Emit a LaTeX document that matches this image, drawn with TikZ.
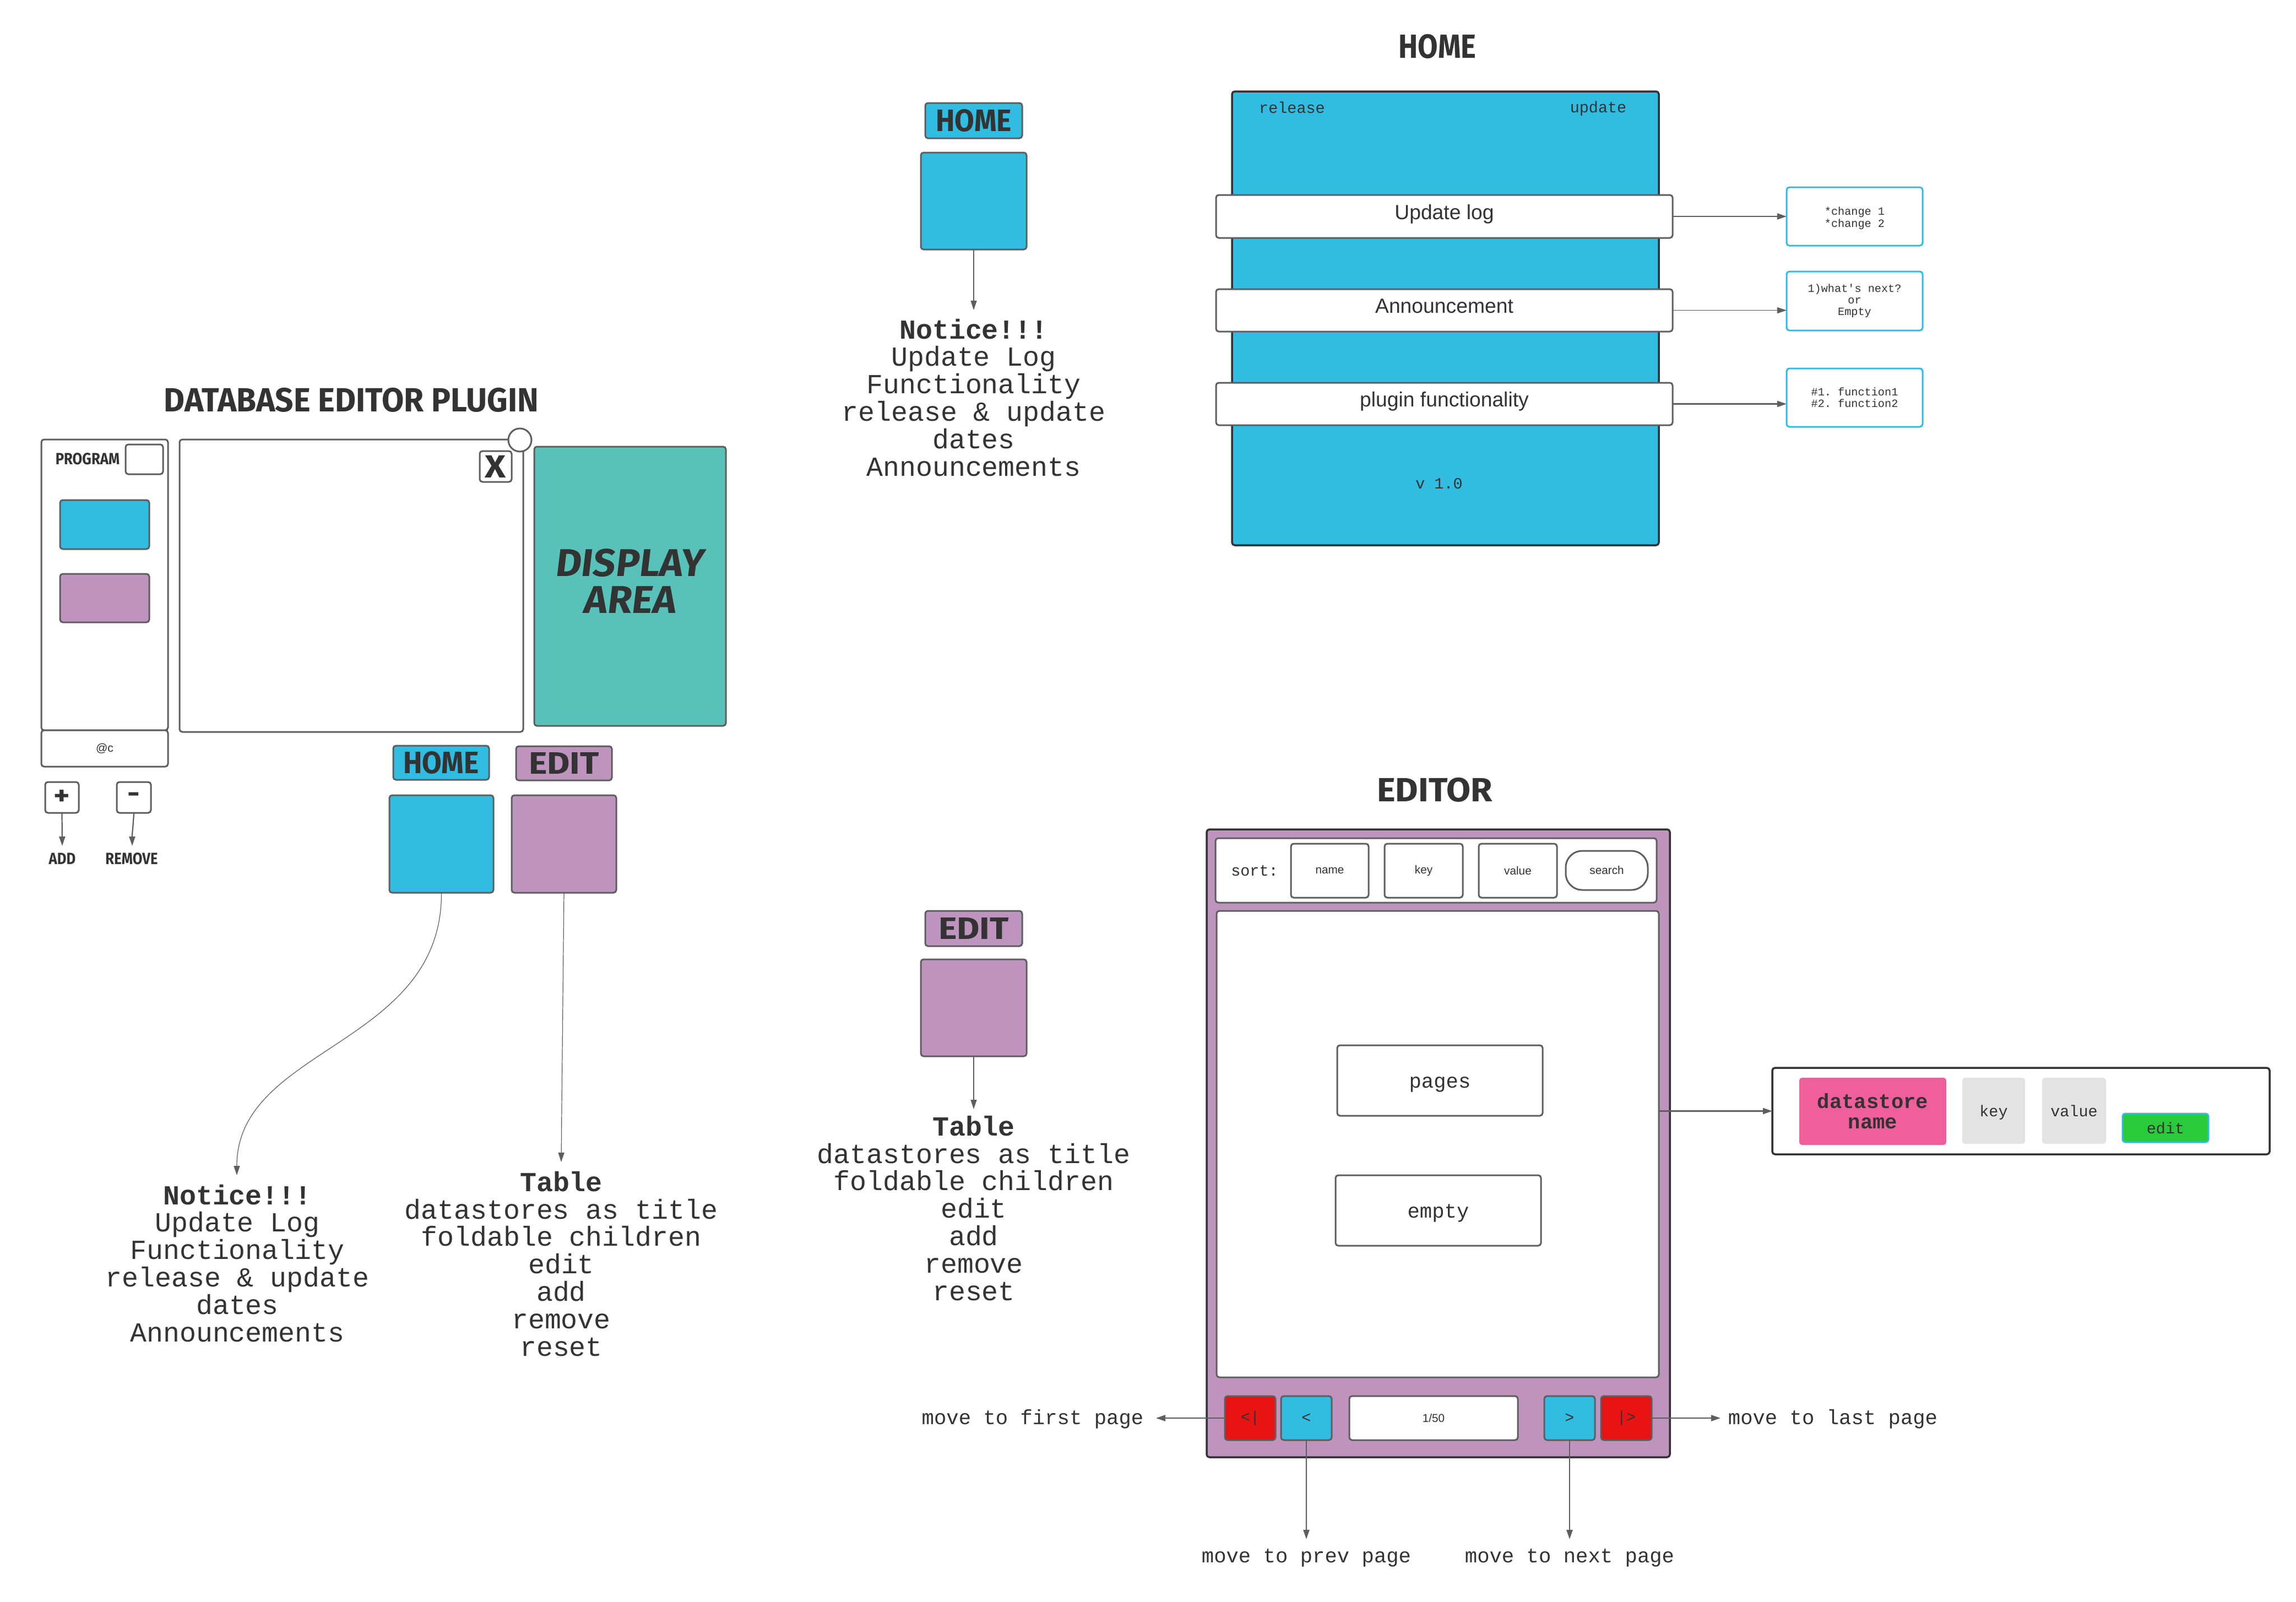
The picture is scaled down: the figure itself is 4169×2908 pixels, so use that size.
\documentclass[tikz,border=0pt]{standalone}
\usepackage{fontspec}
\setmainfont{Liberation Sans}
\setmonofont{Liberation Mono}
\newfontfamily\handa[FakeStretch=.87]{Fira Sans}
\newfontfamily\hande[FakeStretch=.92]{Fira Sans}
\newfontfamily\handb[FakeStretch=.96]{Fira Sans}
\newfontfamily\handc[FakeStretch=1.05]{Fira Sans}
\newfontfamily\handd[FakeStretch=1.13]{Fira Sans}
\newfontfamily\handsl[FakeStretch=1.02,FakeSlant=.12]{Fira Sans}
\usetikzlibrary{arrows.meta}
\definecolor{lin}{HTML}{5E5E5E}
\definecolor{ink}{HTML}{333333}
\definecolor{blu}{HTML}{31BCE2}
\definecolor{pur}{HTML}{BE94BE}
\definecolor{tea}{HTML}{58C2BA}
\definecolor{rdd}{HTML}{E81313}
\definecolor{pnk}{HTML}{F05E9C}
\definecolor{gry}{HTML}{E3E3E3}
\definecolor{grn}{HTML}{2ACB3A}
\newcommand{\sz}[1]{\fontsize{#1}{#1}\selectfont}
\newcommand{\bx}[7]{\node[#2,minimum width={(#5-#3)*0.01cm},minimum height={(#6-#4)*0.01cm}] (#1) at ({(#3+#5)/2},{(#4+#6)/2}) {#7};}
\tikzset{
  base/.style={rectangle,inner sep=0pt,outer sep=0pt,rounded corners=.05cm,align=center,text=ink},
  wbox/.style={base,draw=lin,fill=white,line width=.03cm},
  bluebox/.style={base,draw=lin,fill=blu,line width=.03cm},
  purbox/.style={base,draw=lin,fill=pur,line width=.03cm},
  redbox/.style={base,draw=lin,fill=rdd,line width=.03cm},
  darkblue/.style={base,draw=ink,fill=blu,line width=.035cm},
  darkpur/.style={base,draw=ink,fill=pur,line width=.035cm},
  darkwhite/.style={base,draw=ink,fill=white,line width=.035cm},
  sidebox/.style={base,draw=blu,fill=white,line width=.03cm,font=\ttfamily\sz{5.75}\setlength{\baselineskip}{6pt}},
  txt/.style={inner sep=0pt,outer sep=0pt,align=center,text=ink},
  monolg/.style={txt,font=\ttfamily\sz{14.2}},
  monomd/.style={txt,font=\ttfamily\sz{10.6}},
  monosm/.style={txt,font=\ttfamily\sz{8.1}},
  midbox/.style={wbox,font=\ttfamily\sz{10.6},text height=9pt,text depth=1.6pt},
  sanssm/.style={font=\sz{5.9}},
  sansmd/.style={font=\sz{10.6},text height=8pt,text depth=5pt},
  rowcell/.style={base,fill=gry,font=\ttfamily\sz{8.1},text height=7.8pt,text depth=2pt},
  titlea/.style={txt,font=\handa\bfseries\sz{17.3}},
  titleb/.style={txt,font=\handb\bfseries\sz{17.3}},
  titlec/.style={txt,font=\handc\bfseries\sz{17.3}},
  handsm/.style={txt,font=\handa\bfseries\sz{8.4}},
  hometab/.style={font=\hande\bfseries\sz{16}},
  edittab/.style={font=\handd\bfseries\sz{16}},
  conn/.style={draw=lin,line width=.022cm,-{Triangle[length=.17cm,width=.11cm]}},
  thinconn/.style={draw=lin,line width=.012cm,-{Triangle[length=.17cm,width=.11cm]}},
}
\begin{document}
\begin{tikzpicture}[x=0.01cm,y=-0.01cm]
\useasboundingbox (0,0) rectangle (4169,2908);
% ---------- left: plugin
\node[titleb] (tplugin) at (638,726) {DATABASE EDITOR PLUGIN};
\bx{panel}{wbox}{75}{798}{305}{1326}{}
\bx{panelfoot}{wbox}{75}{1326}{305}{1392}{\sz{6}@c}
\bx{progbox}{wbox}{228}{807}{296}{861}{}
\node[handsm] (proglab) at (159,833) {PROGRAM};
\bx{pblue}{bluebox}{109}{908}{271}{997}{}
\bx{ppur}{purbox}{109}{1042}{271}{1130}{}
\bx{mainwin}{wbox}{326}{798}{950}{1329}{}
\node[draw=lin,fill=white,circle,line width=.03cm,minimum size=.42cm,inner sep=0pt] (knob) at (944,799) {};
\bx{closebx}{wbox}{871}{819}{929}{875}{\handd\bfseries\sz{16.5}X}
\bx{display}{base,draw=lin,fill=tea,line width=.03cm}{970}{811}{1318}{1318}{}
\node[txt,font=\handsl\bfseries\sz{20}\setlength{\baselineskip}{19.3pt}] (distext) at (1142,1055) {DISPLAY\\AREA};
\bx{lhometab}{bluebox,hometab}{714}{1354}{888}{1416}{HOME}
\bx{ledittab}{purbox,edittab}{937}{1355}{1111}{1417}{EDIT}
\bx{lhome}{bluebox}{707}{1444}{896}{1621}{}
\bx{ledit}{purbox}{929}{1444}{1119}{1621}{}
\bx{plusb}{wbox}{82}{1420}{143}{1476}{\handd\bfseries\sz{14}+}
\bx{minusb}{wbox}{212}{1420}{274}{1476}{\raisebox{-3.5pt}{\handd\bfseries\sz{14}-}}
\node[handsm] (addl) at (113,1559) {ADD};
\node[handsm] (reml) at (239,1559) {REMOVE};
\coordinate (addtip) at (113,1536);
\coordinate (remtip) at (240,1536);
\draw[conn] (plusb.south) -- (addtip);
\draw[conn] (minusb.south) .. controls (242,1500) and (240,1510) .. (remtip);
\node[monolg] (lnotice) at (431,2294) {\textbf{Notice!!!}\\Update Log\\Functionality\\release \& update\\dates\\Announcements};
\node[monolg] (ltable) at (1019,2295) {\textbf{Table}\\datastores as title\\foldable children\\edit\\add\\remove\\reset};
\coordinate (ltip1) at (430,2134);
\coordinate (ltip2) at (1019,2110);
\draw[thinconn] (lhome.south) .. controls (803,1900) and (430,1900) .. (ltip1);
\draw[thinconn] (ledit.south) -- (ltip2);
% ---------- middle
\bx{mhometab}{bluebox,hometab}{1680}{187}{1856}{251}{HOME}
\bx{mhome}{bluebox}{1672}{277}{1864}{453}{}
\coordinate (mtip1) at (1768,563);
\draw[thinconn] (mhome.south) -- (mtip1);
\node[monolg] (mnotice) at (1768,722) {\textbf{Notice!!!}\\Update Log\\Functionality\\release \& update\\dates\\Announcements};
\bx{medittab}{purbox,edittab}{1680}{1654}{1856}{1718}{EDIT}
\bx{medit}{purbox}{1672}{1742}{1864}{1918}{}
\coordinate (mtip2) at (1768,2014);
\draw[thinconn] (medit.south) -- (mtip2);
\node[monolg] (mtable) at (1768,2194) {\textbf{Table}\\datastores as title\\foldable children\\edit\\add\\remove\\reset};
% ---------- HOME
\node[titlea] (thome) at (2610,84) {HOME};
\bx{bigblue}{darkblue}{2237}{166}{3012}{990}{}
\node[monosm] (rel) at (2346,195) {release};
\node[monosm] (upd) at (2902,197) {update};
\node[monosm] (ver) at (2613,878) {v 1.0};
\bx{blog}{wbox,sansmd}{2208}{354}{3037}{432}{Update log}
\bx{bann}{wbox,sansmd}{2208}{525}{3037}{602}{Announcement}
\bx{bplug}{wbox,sansmd}{2208}{695}{3037}{772}{plugin functionality}
\bx{slog}{sidebox}{3244}{340}{3491}{446}{\rule{0pt}{6pt}*change 1\\*change 2}
\bx{sann}{sidebox}{3244}{493}{3491}{600}{1)what's next?\\or\\Empty}
\bx{splug}{sidebox}{3244}{669}{3491}{775}{\#1. function1\\\#2. function2}
\draw[conn] (blog.east) -- (blog.east -| slog.west);
\draw[thinconn] (bann.east) -- (bann.east -| sann.west);
\draw[conn] (bplug.east) -- (bplug.east -| splug.west);
% ---------- EDITOR
\node[titlec] (tedit) at (2605,1434) {EDITOR};
\bx{bigpur}{darkpur}{2191}{1506}{3032}{2646}{}
\bx{sortbar}{wbox}{2207}{1522}{3008}{1639}{}
\node[monosm] (sortl) at (2278,1581) {sort:};
\bx{sname}{wbox,sanssm}{2344}{1532}{2485}{1630}{name}
\bx{skey}{wbox,sanssm}{2514}{1532}{2656}{1630}{key}
\bx{sval}{wbox,sanssm}{2685}{1532}{2827}{1630}{value}
\bx{ssearch}{wbox,sanssm,rounded corners=.3cm}{2843}{1545}{2992}{1616}{search}
\bx{content}{wbox}{2209}{1654}{3012}{2501}{}
\bx{pagesb}{midbox}{2428}{1898}{2801}{2026}{pages}
\bx{emptyb}{midbox}{2425}{2134}{2798}{2262}{empty}
\bx{bfirst}{redbox,font=\ttfamily\sz{8.1}}{2224}{2535}{2316}{2615}{<|}
\bx{bprev}{bluebox,font=\ttfamily\sz{8.1}}{2326}{2535}{2418}{2615}{<}
\bx{bpage}{wbox,sanssm}{2450}{2535}{2756}{2615}{1/50}
\bx{bnext}{bluebox,font=\ttfamily\sz{8.1}}{2804}{2535}{2896}{2615}{>}
\bx{blast}{redbox,font=\ttfamily\sz{8.1}}{2907}{2535}{2999}{2615}{|>}
\node[monomd] (lfirst) at (1875,2577) {move to first page};
\node[monomd] (llast) at (3328,2577) {move to last page};
\node[monomd] (lprev) at (2372,2829) {move to prev page};
\node[monomd] (lnext) at (2850,2829) {move to next page};
\coordinate (tfirst) at (2099,2575);
\coordinate (tlast) at (3124,2575);
\coordinate (tprev) at (2372,2795);
\coordinate (tnext) at (2850,2795);
\draw[conn] (bfirst.west) -- (tfirst);
\draw[conn] (blast.east) -- (tlast);
\draw[conn] (bprev.south) -- (tprev);
\draw[conn] (bnext.south) -- (tnext);
% ---------- row
\bx{rowb}{darkwhite}{3218}{1939}{4121}{2096}{}
\bx{rname}{base,fill=pnk,font=\ttfamily\bfseries\sz{10.6}}{3267}{1957}{3534}{2079}{datastore\\name}
\bx{rkey}{rowcell}{3563}{1957}{3677}{2077}{key}
\bx{rval}{rowcell}{3708}{1957}{3824}{2077}{value}
\bx{redit}{base,draw=blu,fill=grn,line width=.03cm,font=\ttfamily\sz{8.1}}{3854}{2022}{4010}{2074}{edit}
\coordinate (rowstart) at (content.east |- rowb.west);
\draw[conn] (rowstart) -- (rowb.west);
\end{tikzpicture}
\end{document}
